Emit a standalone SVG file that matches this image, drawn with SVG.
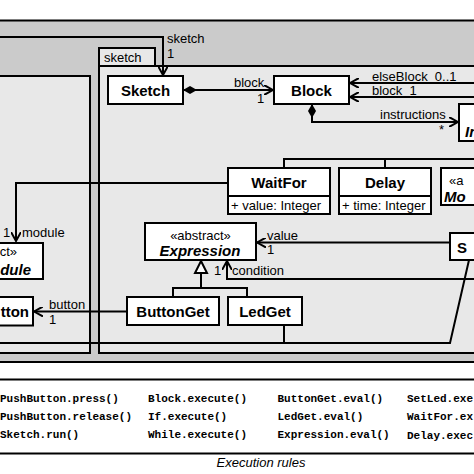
<svg xmlns="http://www.w3.org/2000/svg" width="474" height="474" viewBox="0 0 474 474">
<style>
.ln{fill:none;stroke:#000;stroke-width:2}
.box{fill:#fff;stroke:#000;stroke-width:2}
.pkg{fill:#e8e8e8;stroke:#000;stroke-width:2}
.t{font-family:"Liberation Sans",Arial,sans-serif;font-size:13px;fill:#000}
.b{font-family:"Liberation Sans",Arial,sans-serif;font-size:15px;font-weight:bold;fill:#000}
.bi{font-family:"Liberation Sans",Arial,sans-serif;font-size:15px;font-weight:bold;font-style:italic;fill:#000}
.m{font-family:"Liberation Mono","DejaVu Sans Mono",monospace;font-size:11px;font-weight:bold;fill:#000}
.c{text-anchor:middle}
.e{text-anchor:end}
</style>
<defs>
<marker id="open" viewBox="0 0 10 10" refX="9" refY="5" markerWidth="10" markerHeight="10" markerUnits="userSpaceOnUse" orient="auto">
<path d="M0,0 L9,5 L0,10" fill="none" stroke="#000" stroke-width="2"/>
</marker>
<marker id="dia" viewBox="0 0 14 8" refX="0" refY="4" markerWidth="14" markerHeight="8" markerUnits="userSpaceOnUse" orient="auto">
<path d="M0,4 L7,0 L14,4 L7,8 Z" fill="#000"/>
</marker>
</defs>
<rect x="-2" y="20.5" width="478" height="341.5" fill="#cbcbcb" stroke="#000" stroke-width="2"/>
<g id="pkg-left"><rect class="pkg" x="-2" y="76" width="92" height="277"/></g>
<g id="pkg-sketch">
<rect class="pkg" x="99" y="48" width="56" height="18"/>
<rect class="pkg" x="99" y="66" width="380" height="287"/>
<text class="t" x="104" y="62">sketch</text>
</g>
<g id="connectors">
<path class="ln" d="M-2,37 H163 V75" marker-end="url(#open)"/>
<path class="ln" d="M183,90 H273" marker-start="url(#dia)" marker-end="url(#open)"/>
<path class="ln" d="M476,83 H350" marker-end="url(#open)"/>
<path class="ln" d="M476,97 H350" marker-end="url(#open)"/>
<path class="ln" d="M312,104 V122 H458" marker-start="url(#dia)" marker-end="url(#open)"/>
<path class="ln" d="M284,168 V159 H476 M385,159 V168"/>
<path class="ln" d="M228,183 H16 V241" marker-end="url(#open)"/>
<path class="ln" d="M127,311.5 H34" marker-end="url(#open)"/>
<path class="ln" d="M450,242.5 H257" marker-end="url(#open)"/>
<path class="ln" d="M476,279 H227 V261" marker-end="url(#open)"/>
<path class="ln" d="M201,273 V288 M173,297 V288 H247 V297"/>
<path d="M201,261 L207,273 L195,273 Z" fill="#fff" stroke="#000" stroke-width="2"/>
<path class="ln" d="M469,260 L450,343 H-2 M284,325 V343"/>
<text class="t" x="167" y="43">sketch</text>
<text class="t" x="167" y="58">1</text>
<text class="t" x="234" y="87">block</text>
<text class="t" x="257" y="102.5">1</text>
<text class="t" x="372" y="81" xml:space="preserve">elseBlock  0..1</text>
<text class="t" x="372" y="94.5" xml:space="preserve">block  1</text>
<text class="t" x="380" y="119">instructions</text>
<text class="t" x="439" y="134">*</text>
<text class="t" x="3" y="237">1</text>
<text class="t" x="22" y="237">module</text>
<text class="t" x="49" y="309">button</text>
<text class="t" x="49" y="324">1</text>
<text class="t" x="267" y="240">value</text>
<text class="t" x="267" y="254">1</text>
<text class="t" x="214" y="275">1</text>
<text class="t" x="232" y="275">condition</text>
</g>
<g id="Sketch"><rect class="box" x="108" y="76" width="75" height="28"/><text class="b c" x="145.5" y="95.5">Sketch</text></g>
<g id="Block"><rect class="box" x="274" y="76" width="75" height="28"/><text class="b c" x="311.5" y="95.5">Block</text></g>
<g id="Instruction"><rect class="box" x="459" y="104" width="25" height="37"/><text class="bi" x="465" y="136.5">In</text></g>
<g id="WaitFor"><rect class="box" x="228" y="168" width="102" height="46"/><path class="ln" d="M228,196 H330"/><text class="b c" x="279" y="188">WaitFor</text><text class="t" x="231" y="210">+ value: Integer</text></g>
<g id="Delay"><rect class="box" x="339" y="168" width="92" height="46"/><path class="ln" d="M339,196 H431"/><text class="b c" x="385" y="188">Delay</text><text class="t" x="342" y="210">+ time: Integer</text></g>
<g id="ModuleInstruction"><rect class="box" x="441" y="168" width="40" height="37"/><text class="t" x="449" y="185">«a</text><text class="bi" x="444" y="202">Mo</text></g>
<g id="Module"><rect class="box" x="-2" y="243" width="45" height="36"/><text class="t e" x="17" y="256">ct»</text><text class="bi e" x="31" y="275">dule</text></g>
<g id="PushButton"><rect class="box" x="-2" y="297" width="35" height="28.5"/><text class="b e" x="29" y="316.5">tton</text></g>
<g id="Expression"><rect class="box" x="145" y="223" width="111" height="37"/><text class="t c" x="200.5" y="240">«abstract»</text><text class="bi c" x="200" y="256">Expression</text></g>
<g id="ButtonGet"><rect class="box" x="127" y="297" width="92" height="28"/><text class="b c" x="173" y="316.5">ButtonGet</text></g>
<g id="LedGet"><rect class="box" x="228" y="297" width="74" height="28"/><text class="b c" x="265" y="316.5">LedGet</text></g>
<g id="SetLed"><rect class="box" x="450" y="233" width="30" height="27"/><text class="b" x="457" y="253">S</text></g>
<g id="rules">
<rect x="-2" y="379.5" width="478" height="74" fill="#fff" stroke="#000" stroke-width="2"/>
<text class="m" x="0" y="401.5">PushButton.press()</text>
<text class="m" x="0" y="419.5">PushButton.release()</text>
<text class="m" x="0" y="437.5">Sketch.run()</text>
<text class="m" x="148" y="401.5">Block.execute()</text>
<text class="m" x="148" y="419.5">If.execute()</text>
<text class="m" x="148" y="437.5">While.execute()</text>
<text class="m" x="277.5" y="401.5">ButtonGet.eval()</text>
<text class="m" x="277.5" y="419.5">LedGet.eval()</text>
<text class="m" x="277.5" y="437.5">Expression.eval()</text>
<text class="m" x="407" y="401.5">SetLed.exe</text>
<text class="m" x="407" y="419.5">WaitFor.ex</text>
<text class="m" x="407" y="438.5">Delay.exec</text>
<text class="t c" x="261" y="467" font-style="italic">Execution rules</text>
</g>
</svg>
